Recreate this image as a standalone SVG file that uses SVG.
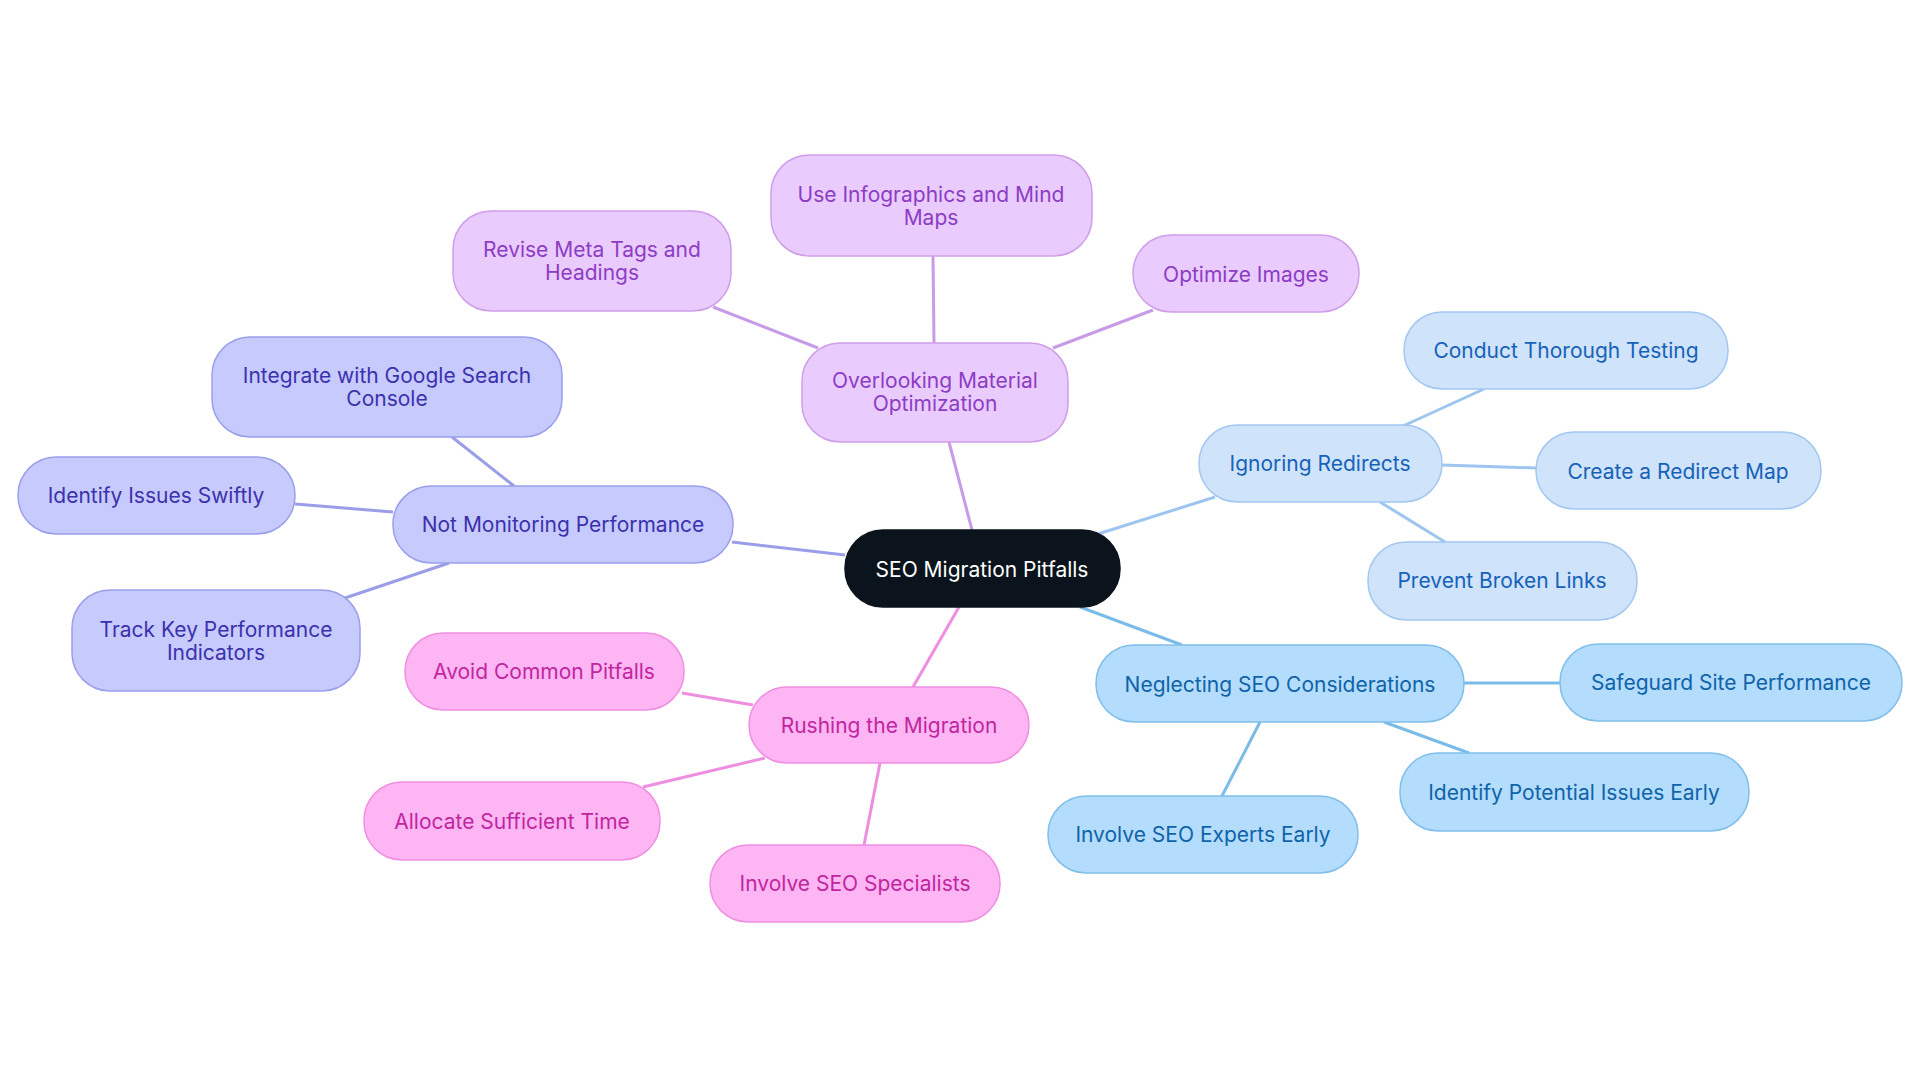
<svg xmlns="http://www.w3.org/2000/svg" width="1920" height="1083" viewBox="0 0 1920 1083">
<style>
text{font-family:Inter,"Liberation Sans",sans-serif;font-size:21px;text-anchor:middle;dominant-baseline:central}
rect{stroke-width:1.5}
.c rect{fill:#0b141c;stroke:#0b141c}.c text{fill:#fff}
.p rect{fill:#e9cbfd;stroke:#cf9ee9}.p text{fill:#8d3cc4}
.b rect{fill:#cfe3fb;stroke:#a3c8f0}.b text{fill:#1662b8}
.d rect{fill:#b3dcfd;stroke:#80bfe9}.d text{fill:#0f63a8}
.i rect{fill:#c7cafd;stroke:#9b9fea}.i text{fill:#3b31ad}
.k rect{fill:#fdb6f3;stroke:#f08ee2}.k text{fill:#c1259f}
#edges line{stroke-width:3}
</style>
<g id="edges">
<line x1="972" y1="530" x2="949" y2="442" stroke="#c89be8"/>
<line x1="934" y1="343" x2="933" y2="256" stroke="#c89be8"/>
<line x1="818" y1="348" x2="713" y2="307" stroke="#c89be8"/>
<line x1="1053" y1="348" x2="1153" y2="310" stroke="#c89be8"/>
<line x1="1098" y1="534" x2="1215" y2="497" stroke="#9ec5ef"/>
<line x1="1403" y1="426" x2="1484" y2="389" stroke="#9ec5ef"/>
<line x1="1442" y1="465" x2="1536" y2="468" stroke="#9ec5ef"/>
<line x1="1380" y1="502" x2="1445" y2="542" stroke="#9ec5ef"/>
<line x1="1080" y1="607" x2="1182" y2="645" stroke="#7bbbe8"/>
<line x1="1464" y1="683" x2="1560" y2="683" stroke="#7bbbe8"/>
<line x1="1384" y1="722" x2="1469" y2="753" stroke="#7bbbe8"/>
<line x1="1260" y1="722" x2="1222" y2="796" stroke="#7bbbe8"/>
<line x1="959" y1="607" x2="913" y2="687" stroke="#ee8ee0"/>
<line x1="682" y1="693" x2="753" y2="705" stroke="#ee8ee0"/>
<line x1="765" y1="758" x2="643" y2="787" stroke="#ee8ee0"/>
<line x1="880" y1="763" x2="864" y2="845" stroke="#ee8ee0"/>
<line x1="845" y1="555" x2="732" y2="542" stroke="#9a9ee8"/>
<line x1="514" y1="486" x2="452" y2="437" stroke="#9a9ee8"/>
<line x1="393" y1="512" x2="295" y2="504" stroke="#9a9ee8"/>
<line x1="449" y1="563" x2="345" y2="598" stroke="#9a9ee8"/>
</g>
<g id="center" class="c"><rect x="845" y="530" width="275" height="77" rx="38"/><text x="982" y="569">SEO Migration Pitfalls</text></g>
<g id="overlooking" class="p"><rect x="802" y="343" width="266" height="99" rx="38"/><text x="935" y="380">Overlooking Material</text><text x="935" y="403">Optimization</text></g>
<g id="infographics" class="p"><rect x="771" y="155" width="321" height="101" rx="38"/><text x="931" y="194">Use Infographics and Mind</text><text x="931" y="217">Maps</text></g>
<g id="revise" class="p"><rect x="453" y="211" width="278" height="100" rx="38"/><text x="592" y="249">Revise Meta Tags and</text><text x="592" y="272">Headings</text></g>
<g id="optimize" class="p"><rect x="1133" y="235" width="226" height="77" rx="38"/><text x="1246" y="274">Optimize Images</text></g>
<g id="redirects" class="b"><rect x="1199" y="425" width="243" height="77" rx="38"/><text x="1320" y="463">Ignoring Redirects</text></g>
<g id="testing" class="b"><rect x="1404" y="312" width="324" height="77" rx="38"/><text x="1566" y="350">Conduct Thorough Testing</text></g>
<g id="redirectmap" class="b"><rect x="1536" y="432" width="285" height="77" rx="38"/><text x="1678" y="471">Create a Redirect Map</text></g>
<g id="broken" class="b"><rect x="1368" y="542" width="269" height="78" rx="38"/><text x="1502" y="580">Prevent Broken Links</text></g>
<g id="neglecting" class="d"><rect x="1096" y="645" width="368" height="77" rx="38"/><text x="1280" y="684">Neglecting SEO Considerations</text></g>
<g id="safeguard" class="d"><rect x="1560" y="644" width="342" height="77" rx="38"/><text x="1731" y="682">Safeguard Site Performance</text></g>
<g id="identifyp" class="d"><rect x="1400" y="753" width="349" height="78" rx="38"/><text x="1574" y="792">Identify Potential Issues Early</text></g>
<g id="experts" class="d"><rect x="1048" y="796" width="310" height="77" rx="38"/><text x="1203" y="834">Involve SEO Experts Early</text></g>
<g id="rushing" class="k"><rect x="749" y="687" width="280" height="76" rx="38"/><text x="889" y="725">Rushing the Migration</text></g>
<g id="avoid" class="k"><rect x="405" y="633" width="279" height="77" rx="38"/><text x="544" y="671">Avoid Common Pitfalls</text></g>
<g id="allocate" class="k"><rect x="364" y="782" width="296" height="78" rx="38"/><text x="512" y="821">Allocate Sufficient Time</text></g>
<g id="specialists" class="k"><rect x="710" y="845" width="290" height="77" rx="38"/><text x="855" y="883">Involve SEO Specialists</text></g>
<g id="monitoring" class="i"><rect x="393" y="486" width="340" height="77" rx="38"/><text x="563" y="524">Not Monitoring Performance</text></g>
<g id="integrate" class="i"><rect x="212" y="337" width="350" height="100" rx="38"/><text x="387" y="375">Integrate with Google Search</text><text x="387" y="398">Console</text></g>
<g id="swiftly" class="i"><rect x="18" y="457" width="277" height="77" rx="38"/><text x="156" y="495">Identify Issues Swiftly</text></g>
<g id="track" class="i"><rect x="72" y="590" width="288" height="101" rx="38"/><text x="216" y="629">Track Key Performance</text><text x="216" y="652">Indicators</text></g>
</svg>
